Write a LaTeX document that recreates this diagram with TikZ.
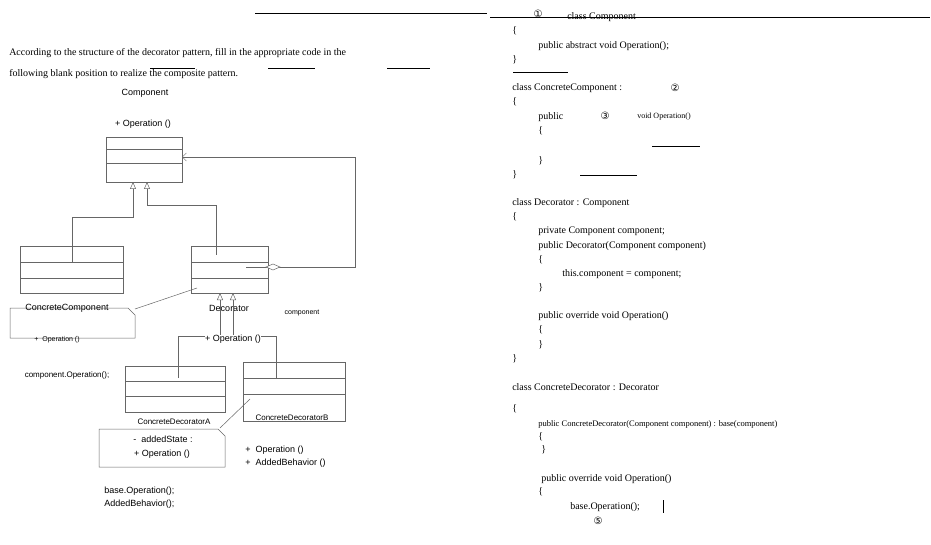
\documentclass[tikz,border=0pt]{standalone}
\usepackage{fontspec}
\setmainfont{Liberation Serif}
\newfontfamily\arfont{Liberation Sans}
\newfontfamily\djfont{DejaVu Sans}
\usetikzlibrary{arrows.meta}
\begin{document}
\begin{tikzpicture}[x=1pt,y=-1pt,line width=0.5pt,
 code/.style={anchor=west,inner sep=0,font=\fontsize{10}{12}\selectfont},
 lab/.style={inner sep=0,font=\arfont\fontsize{9}{11}\selectfont},
 sm/.style={inner sep=0,font=\arfont\fontsize{7}{8}\selectfont},
 num/.style={inner sep=0,font=\djfont\fontsize{10}{12}\selectfont},
 ln/.style={draw=black!60},
 inh/.style={-{Triangle[open,length=7pt,width=6pt]},draw=black!60}]
\useasboundingbox (0,0) rectangle (931,545);
% top rules
\draw (255,13) -- (487,13);
\draw (490,17) -- (930,17);
\node[code] at (9,53) {According to the structure of the decorator pattern, fill in the appropriate code in the};
\node[code] at (9,74) {following blank position to realize the composite pattern.};
\foreach \a/\b in {150/195,268/315,387/430} \draw (\a,68)--(\b,68);
% component
\node[lab] (lc) at (145,93) {Component};
\node[lab] (lco) at (143,124) {+ Operation ()};
\draw[ln] (106,137) rectangle (182,182) (106,149)--(182,149) (106,163)--(182,163);
\coordinate (t1) at (133,182); \coordinate (t2) at (147,182);
% concrete component
\draw[ln] (20,246) rectangle (123,293) (20,262)--(123,262) (20,278)--(123,278);
\draw[ln] (191,246) rectangle (268,293) (191,262)--(268,262) (191,278)--(268,278);
\draw[inh] (72,262) -- (72,217) -- (133,217) -- (t1);
\draw[inh] (216,255) -- (216,205) -- (147,205) -- (t2);
\draw[ln,-{Straight Barb[length=4pt]}] (246,267) -- (355,267) -- (355,157) -- (182,157);
\draw[draw=black!60,fill=white] (266,267) -- (273,264) -- (280,267) -- (273,270) -- cycle;
% notes
\draw[ln] (10,308) -- (128,308) -- (135,315) -- (135,338) -- (10,338) -- cycle;
\draw[ln] (135,309) -- (197,288);
\node[lab] (ncc) at (67,308) {ConcreteComponent};
\node[sm] at (57,340) {+ \ Operation ()};
\node[lab,fill=white,inner sep=1pt] (ld) at (229,308) {Decorator};
\node[sm] at (302,313) {component};
\draw[inh] (178,378) -- (178,336) -- (220,336) -- (220,293);
\draw[inh] (276,378) -- (276,336) -- (233,336) -- (233,293);
\node[lab,fill=white] at (233,339) {+ Operation ()};
\node[sm,font=\arfont\fontsize{8}{9}\selectfont] at (67,375) {component.Operation();};
\draw[ln] (125,366) rectangle (225,412) (125,381)--(225,381) (125,396)--(225,396);
\draw[ln] (243,362) rectangle (345,421) (243,378)--(345,378) (243,394)--(345,394);
\draw[ln] (99,429) -- (218,429) -- (225,436) -- (225,467) -- (99,467) -- cycle;
\draw[ln] (220,428) -- (250,399);
\node[lab,font=\arfont\fontsize{8}{9}\selectfont] at (174,422) {ConcreteDecoratorA};
\node[lab] at (163,439) {- \ addedState :};
\node[lab] at (162,454) {+ Operation ()};
\node[lab,font=\arfont\fontsize{8}{9}\selectfont] at (292,418) {ConcreteDecoratorB};
\node[lab,anchor=west] at (245,450) {+ \ Operation ()};
\node[lab,anchor=west] at (245,463) {+ \ AddedBehavior ()};
\node[lab,anchor=west] at (104,491) {base.Operation();};
\node[lab,anchor=west] at (104,504) {AddedBehavior();};
% code
\node[num] at (538,14) {①};
\node[code] at (567,17) {class Component};
\node[code] at (512,31) {\{};
\node[code] at (538,46) {public abstract void Operation();};
\node[code] at (512,60) {\}};
\draw (513,72)--(568,72);
\node[code] at (512,88) {class ConcreteComponent :};
\node[num] at (675,88) {②};
\node[code] at (512,102) {\{};
\node[code] at (538,117) {public};
\node[num] at (605,116) {③};
\node[code,font=\fontsize{8}{9}\selectfont] at (637,117) {void Operation()};
\node[code] at (538,131) {\{};
\draw (652,146)--(700,146);
\node[code] at (538,161) {\}};
\node[code] at (512,175) {\}};
\draw (580,175)--(637,175);
\node[code] at (512,203) {class Decorator : Component};
\node[code] at (512,217) {\{};
\node[code] at (538,231) {private Component component;};
\node[code] at (538,246) {public Decorator(Component component)};
\node[code] at (538,260) {\{};
\node[code] at (562,274) {this.component = component;};
\node[code] at (538,288) {\}};
\node[code] at (538,316) {public override void Operation()};
\node[code] at (538,330) {\{};
\node[code] at (538,345) {\}};
\node[code] at (512,359) {\}};
\node[code] at (512,387) {class ConcreteDecorator : Decorator};
\node[code] at (512,409) {\{};
\node[code,font=\fontsize{8.5}{10}\selectfont] at (538,424) {public ConcreteDecorator(Component component) : base(component)};
\node[code] at (538,437) {\{};
\node[code] at (541,450) {\}};
\node[code] at (541,479) {public override void Operation()};
\node[code] at (538,492) {\{};
\node[code] at (570,507) {base.Operation();};
\draw (663,500)--(663,513);
\node[num] at (598,521) {⑤};
\end{tikzpicture}
\end{document}
